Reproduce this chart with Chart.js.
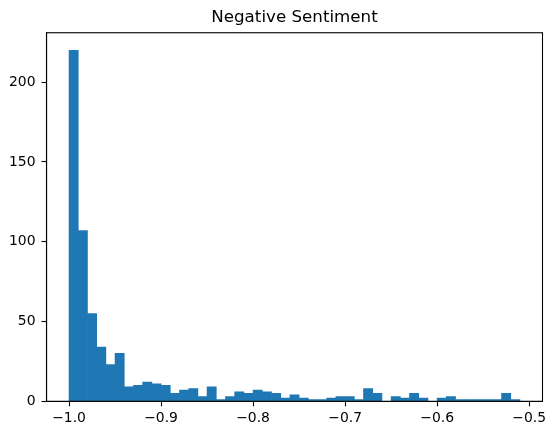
<!DOCTYPE html>
<html>
<head>
<meta charset="utf-8">
<script src="https://cdn.jsdelivr.net/npm/chart.js@4"></script>
<style>
  html, body { margin: 0; padding: 0; background: #fff; }
  #wrap { width: 555px; height: 435px; }
</style>
</head>
<body>
<div id="wrap"><canvas id="hist" width="555" height="435"></canvas></div>
<script>
// left edge of each histogram bin
const binLeft = [
  -1.00, -0.99, -0.98, -0.97, -0.96, -0.95, -0.94, -0.93, -0.92, -0.91,
  -0.90, -0.89, -0.88, -0.87, -0.86, -0.85, -0.84, -0.83, -0.82, -0.81,
  -0.80, -0.79, -0.78, -0.77, -0.76, -0.75, -0.74, -0.73, -0.72, -0.71,
  -0.70, -0.69, -0.68, -0.67, -0.66, -0.65, -0.64, -0.63, -0.62, -0.61,
  -0.60, -0.59, -0.58, -0.57, -0.56, -0.55, -0.54, -0.53, -0.52
];
const binWidth = 0.01;

// counts per bin
const counts = [
  220, 107, 55, 34, 23, 30, 9, 10, 12, 11,
  10, 5, 7, 8, 3, 9, 1, 3, 6, 5,
  7, 6, 5, 2, 4, 2, 1, 1, 2, 3,
  3, 1, 8, 5, 0, 3, 2, 5, 2, 0,
  2, 3, 1, 1, 1, 1, 1, 5, 1
];

const xTicks = [-1.0, -0.9, -0.8, -0.7, -0.6, -0.5];
const yTicks = [0, 50, 100, 150, 200];

const FONT = 'DejaVu Sans';

// 축 테두리 (위/오른쪽 포함 전체 박스)
const frame = {
  id: 'frame',
  afterDatasetsDraw(chart) {
    const a = chart.chartArea;
    const c = chart.ctx;
    c.save();
    c.strokeStyle = '#000';
    c.lineWidth = 1.1;
    c.strokeRect(a.left, a.top, a.right - a.left, a.bottom - a.top);
    c.restore();
  }
};

const points = binLeft.map((x, i) => ({ x: x + binWidth / 2, y: counts[i] }));

new Chart(document.getElementById('hist').getContext('2d'), {
  type: 'bar',
  data: {
    datasets: [{
      data: points,
      backgroundColor: '#1f77b4',
      borderWidth: 0,
      barPercentage: 1,
      categoryPercentage: 1
    }]
  },
  options: {
    responsive: false,
    animation: false,
    layout: { padding: { left: 0, right: 12.5, top: 0, bottom: 0 } },
    plugins: {
      legend: { display: false },
      tooltip: { enabled: false },
      title: {
        display: true,
        fullSize: false,
        text: 'Negative Sentiment',
        color: '#000',
        font: { family: FONT, size: 16.7, weight: 'normal' },
        padding: { top: 8, bottom: 4.7 }
      }
    },
    scales: {
      x: {
        type: 'linear',
        offset: false,
        min: -1.0245,
        max: -0.4855,
        afterBuildTicks: s => { s.ticks = xTicks.map(v => ({ value: v })); },
        afterFit: s => { s.height = 33.7; },
        grid: { display: true, offset: false, drawOnChartArea: false, drawTicks: true, tickLength: 5, color: '#000', tickWidth: 1.1 },
        border: { display: true, color: '#000', width: 1.1 },
        ticks: {
          color: '#000',
          font: { family: FONT, size: 13.9 },
          padding: 4,
          maxRotation: 0,
          callback: v => v.toFixed(1).replace('-', '\u2212')
        }
      },
      y: {
        min: 0,
        max: 231,
        afterBuildTicks: s => { s.ticks = yTicks.map(v => ({ value: v })); },
        afterFit: s => { s.width = 46.5; },
        grid: { display: true, drawOnChartArea: false, drawTicks: true, tickLength: 5, color: '#000', tickWidth: 1.1 },
        border: { display: true, color: '#000', width: 1.1 },
        ticks: {
          color: '#000',
          font: { family: FONT, size: 13.9 },
          padding: 6
        }
      }
    }
  },
  plugins: [frame]
});
</script>
</body>
</html>
